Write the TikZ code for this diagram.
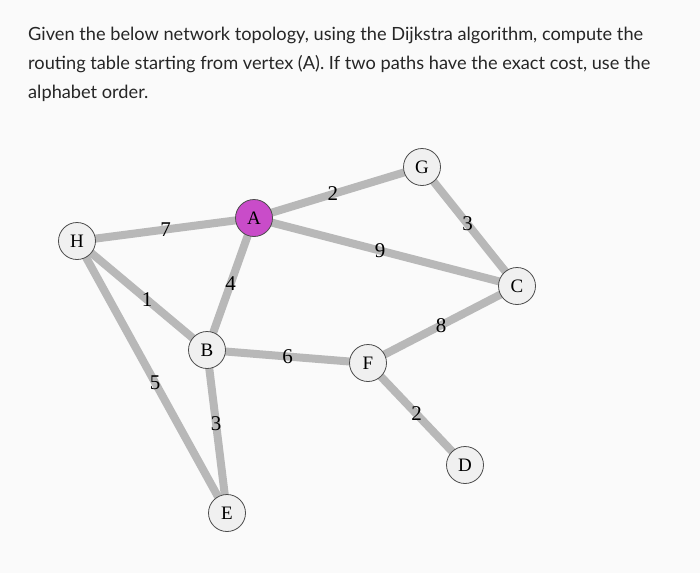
\documentclass[tikz,border=0pt]{standalone}
\usepackage{fontspec}
\setmainfont{Liberation Serif}
\newfontfamily\qfont{Lato}
\begin{document}
\begin{tikzpicture}[x=1pt,y=-1pt,
  vert/.style={circle,draw=black!70,line width=0.8pt,fill=black!6,minimum size=37pt,inner sep=0pt,font=\fontsize{19}{19}\selectfont},
  edge/.style={line width=8pt,draw=black!28},
  wt/.style={font=\fontsize{21}{21}\selectfont,inner sep=0pt}]
\fill[black!2] (0,0) rectangle (700,573);
\useasboundingbox (0,0) rectangle (700,573);
\node[anchor=north west,align=left,font=\qfont\fontsize{18.2}{29}\selectfont,text=black!85,inner sep=0pt] (q) at (28,27)
 {Given the below network topology, using the Dijkstra algorithm, compute the\\routing table starting from vertex (A). If two paths have the exact cost, use the\\alphabet order.};
\coordinate (H) at (77,241); \coordinate (A) at (254,218); \coordinate (G) at (422,167);
\coordinate (C) at (517,286); \coordinate (B) at (207,350); \coordinate (F) at (368,363);
\coordinate (D) at (465,465); \coordinate (E) at (227,513);
\draw[edge] (H) -- node[wt,pos=.5]{7} (A);
\draw[edge] (A) -- node[wt,pos=.47]{2} (G);
\draw[edge] (A) -- node[wt,pos=.48]{9} (C);
\draw[edge] (G) -- node[wt,pos=.48]{3} (C);
\draw[edge] (H) -- node[wt,pos=.54]{1} (B);
\draw[edge] (A) -- node[wt,pos=.5]{4} (B);
\draw[edge] (H) -- node[wt,pos=.52]{5} (E);
\draw[edge] (B) -- node[wt,pos=.45]{3} (E);
\draw[edge] (B) -- node[wt,pos=.5]{6} (F);
\draw[edge] (F) -- node[wt,pos=.49]{8} (C);
\draw[edge] (F) -- node[wt,pos=.5]{2} (D);
\node[vert] (nH) at (H) {H};
\node[vert,fill=violet!60!magenta!70] (nA) at (A) {A};
\node[vert] (nG) at (G) {G};
\node[vert] (nC) at (C) {C};
\node[vert] (nB) at (B) {B};
\node[vert] (nF) at (F) {F};
\node[vert] (nD) at (D) {D};
\node[vert] (nE) at (E) {E};
\end{tikzpicture}
\end{document}
